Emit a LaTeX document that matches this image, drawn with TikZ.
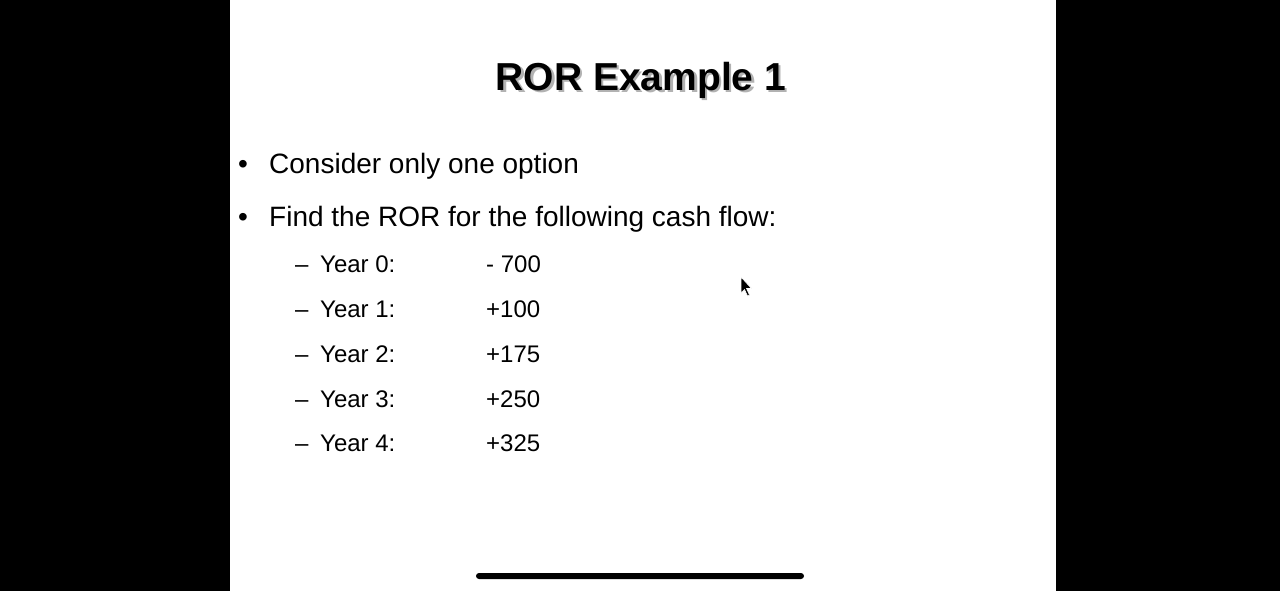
\documentclass[tikz,border=0pt]{standalone}
\usepackage{fontspec}
\setmainfont{Liberation Sans}
\begin{document}
\begin{tikzpicture}[x=1pt,y=-1pt,
  body/.style={anchor=base west,inner sep=0pt,font=\fontsize{28}{32}\selectfont},
  sub/.style={anchor=base west,inner sep=0pt,font=\fontsize{24}{28}\selectfont}]
\useasboundingbox (0,0) rectangle (1280,591);
\fill[black] (0,0) rectangle (1280,591);
\fill[white] (230,0) rectangle (1056,591);
\node[anchor=base,inner sep=0pt,font=\bfseries\fontsize{39}{44}\selectfont,text=gray!60] (tsh) at (643.5,93) {ROR Example 1};
\node[anchor=base,inner sep=0pt,font=\bfseries\fontsize{39}{44}\selectfont] (title) at (641,91) {ROR Example 1};
\node[body] (b1d) at (238,174) {•};
\node[body] (b1) at (269,174) {Consider only one option};
\node[body] (b2d) at (238,226) {•};
\node[body] (b2) at (269,226) {Find the ROR for the following cash flow:};
\foreach \y/\n/\v in {272/0/{- 700},317/1/{+100},362/2/{+175},407/3/{+250},451/4/{+325}}{
  \node[sub] (d\n) at (295,\y) {–};
  \node[sub] (y\n) at (320,\y) {Year \n:};
  \node[sub] (v\n) at (486,\y) {\v};
}
\fill[black,rounded corners=3pt] (476,573) rectangle (804,579);
\filldraw[black,draw=white,line width=0.6pt] (741,277) -- (741,293) -- (744.5,289.5) -- (747.5,296) -- (749.5,295) -- (746.5,288.5) -- (751.5,288.5) -- cycle;
\end{tikzpicture}
\end{document}
